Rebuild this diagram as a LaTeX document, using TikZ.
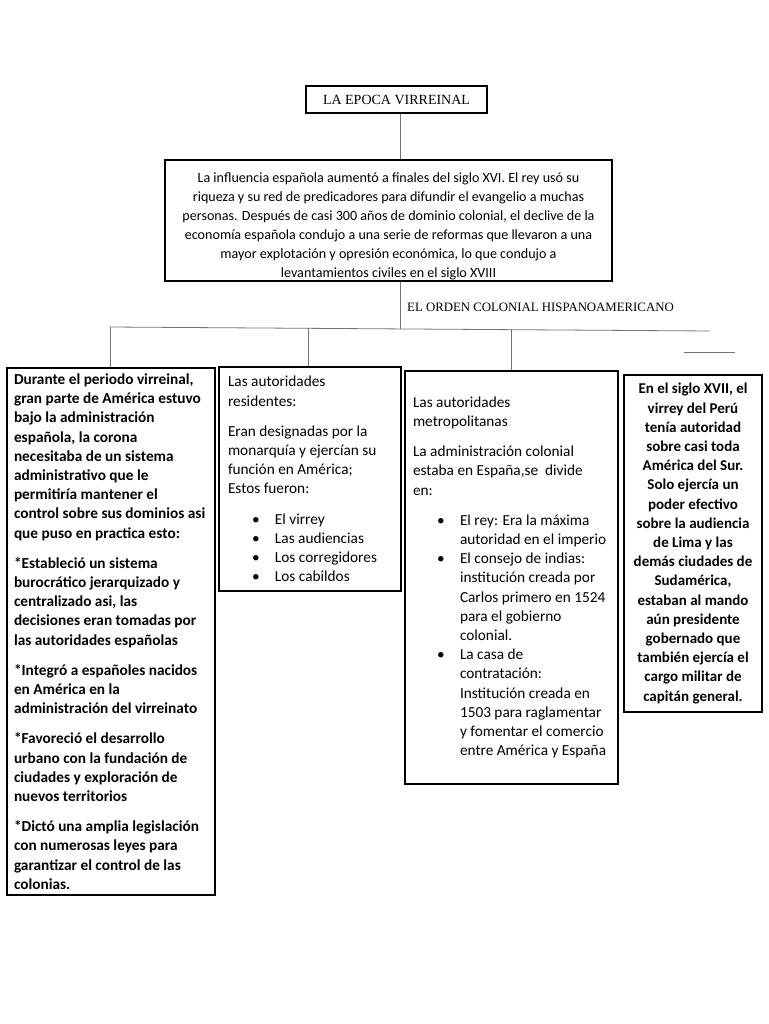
\documentclass[tikz,border=0pt]{standalone}
\usepackage{fontspec}
\setmainfont{Carlito}
\newfontfamily\ttlfont{Liberation Serif}
\usetikzlibrary{positioning}

\newcommand{\bodyfnt}{\fontsize{15.3}{19.2}\selectfont}
\newcommand{\blt}[1]{\hspace*{24pt}\makebox[23pt][l]{\textbullet}#1}
\newcommand{\bltc}[1]{\hspace*{47pt}#1}

\begin{document}
\begin{tikzpicture}[x=1pt,y=-1pt,
  card/.style={draw,line width=1.3pt,inner sep=0pt,font=\bodyfnt},
  lnk/.style={draw=black!55,line width=0.8pt}]
\useasboundingbox[fill=white] (0,0) rectangle (768,1024);

% titulo y texto principal
\node[draw,line width=1.2pt,minimum width=181pt,minimum height=27pt,inner sep=0pt,font=\ttlfont\fontsize{14}{16}\selectfont] (ttl) at (396.5,99.5) {LA EPOCA VIRREINAL};
\node[card,minimum width=447pt,minimum height=121pt,align=center,font=\fontsize{14.1}{19}\selectfont] (main) at (388.5,220.5) {\rule{0pt}{22pt}La influencia española aumentó a finales del siglo XVI. El rey usó su\\
riqueza y su red de predicadores para difundir el evangelio a muchas\\
personas. Después de casi 300 años de dominio colonial, el declive de la\\
economía española condujo a una serie de reformas que llevaron a una\\
mayor explotación y opresión económica, lo que condujo a\\
levantamientos civiles en el siglo XVIII};
\node[anchor=west,inner sep=0pt,font=\ttlfont\fontsize{12.8}{14}\selectfont] (orden) at (407,307) {EL ORDEN COLONIAL HISPANOAMERICANO};

% cajas de abajo
\node[card,minimum width=208pt,minimum height=527pt,align=flush left,text width=194pt,inner xsep=7pt,font=\bodyfnt\bfseries] (lbox) at (111,631.5) {Durante el periodo virreinal,\\
gran parte de América estuvo\\
bajo la administración\\
española, la corona\\
necesitaba de un sistema\\
administrativo que le\\
permitiría mantener el\\
control sobre sus dominios asi\\
que puso en practica esto:\\[11pt]
*Estableció un sistema\\
burocrático jerarquizado y\\
centralizado asi, las\\
decisiones eran tomadas por\\
las autoridades españolas\\[11pt]
*Integró a españoles nacidos\\
en América en la\\
administración del virreinato\\[11pt]
*Favoreció el desarrollo\\
urbano con la fundación de\\
ciudades y exploración de\\
nuevos territorios\\[11pt]
*Dictó una amplia legislación\\
con numerosas leyes para\\
garantizar el control de las\\
colonias.};
\node[card,minimum width=182pt,minimum height=224pt,align=flush left,text width=164pt,inner xsep=9pt] (res) at (310,479) {Las autoridades\\
residentes:\\[11pt]
Eran designadas por la\\
monarquía y ejercían su\\
función en América;\\
Estos fueron:\\[11pt]
\blt{El virrey}\\
\blt{Las audiencias}\\
\blt{Los corregidores}\\
\blt{Los cabildos}};
\node[card,minimum width=213pt,minimum height=413pt,align=flush left,text width=197pt,inner xsep=8pt] (met) at (511.5,577.5) {Las autoridades\\
metropolitanas\\[11pt]
La administración colonial\\
estaba en España,se\ \ divide\\
en:\\[11pt]
\blt{El rey: Era la máxima}\\
\bltc{autoridad en el imperio}\\
\blt{El consejo de indias:}\\
\bltc{institución creada por}\\
\bltc{Carlos primero en 1524}\\
\bltc{para el gobierno}\\
\bltc{colonial.}\\
\blt{La casa de}\\
\bltc{contratación:}\\
\bltc{Institución creada en}\\
\bltc{1503 para raglamentar}\\
\bltc{y fomentar el comercio}\\
\bltc{entre América y España}};
\node[card,minimum width=138pt,minimum height=337pt,align=center,font=\fontsize{15}{19.2}\selectfont\bfseries] (peru) at (693,543.5) {En el siglo XVII, el\\
virrey del Perú\\
tenía autoridad\\
sobre casi toda\\
América del Sur.\\
Solo ejercía un\\
poder efectivo\\
sobre la audiencia\\
de Lima y las\\
demás ciudades de\\
Sudamérica,\\
estaban al mando\\
aún presidente\\
gobernado que\\
también ejercía el\\
cargo militar de\\
capitán general.};

% lineas
\coordinate (hub) at (400,329);
\coordinate (barL) at (110,327);
\coordinate (barR) at (710,331);
\coordinate (d2) at (308,328);
\coordinate (d3) at (511,329);
\coordinate (tickA) at (684,352);
\coordinate (tickB) at (735,352);
\path[lnk] (ttl.south -| hub) -- (main.north -| hub);
\path[lnk] (main.south -| hub) -- (hub);
\path[lnk] (barL) -- (barR);
\path[lnk] (barL) -- (barL |- lbox.north);
\path[lnk] (d2) -- (d2 |- res.north);
\path[lnk] (d3) -- (d3 |- met.north);
\path[lnk] (tickA) -- (tickB);
\end{tikzpicture}
\end{document}
